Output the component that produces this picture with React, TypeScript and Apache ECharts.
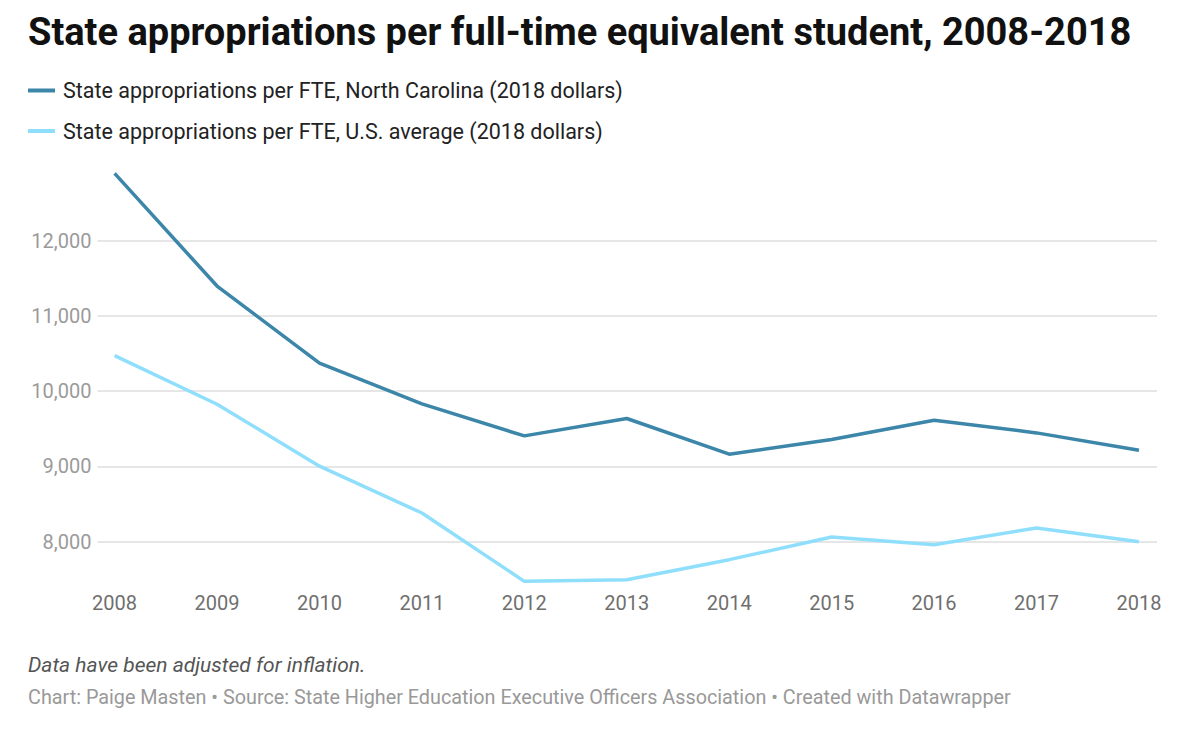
import React, { useEffect, useRef } from "react";
import * as echarts from "echarts";

const years = [2008, 2009, 2010, 2011, 2012, 2013, 2014, 2015, 2016, 2017, 2018];
const ncValues = [12895, 11398, 10372, 9831, 9406, 9637, 9163, 9358, 9615, 9446, 9216];
const usValues = [10473, 9827, 9004, 8381, 7473, 7495, 7761, 8062, 7960, 8182, 8000];
const seriesNames = [
  "State appropriations per FTE, North Carolina (2018 dollars)",
  "State appropriations per FTE, U.S. average (2018 dollars)",
];
const yTickLabels = [8000, 9000, 10000, 11000, 12000];

const title = "State appropriations per full-time equivalent student, 2008-2018";
const note = "Data have been adjusted for inflation.";
const credit =
  "Chart: Paige Masten • Source: State Higher Education Executive Officers Association • Created with Datawrapper";

const FONT = "Roboto, 'Noto Sans', sans-serif";

export default function App() {
  const ref = useRef<HTMLDivElement>(null);
  useEffect(() => {
    document.body.style.margin = "0";
    const chart = echarts.init(ref.current!, undefined, { renderer: "svg" });
    chart.setOption({
      animation: false,
      backgroundColor: "#ffffff",
      textStyle: { fontFamily: FONT },
      title: {
        text: title,
        left: 23,
        top: 8,
        textStyle: { fontFamily: FONT, fontSize: 38, fontWeight: "bold", color: "#111" },
      },
      legend: {
        orient: "vertical",
        left: 23,
        top: 73.5,
        itemGap: 16.5,
        itemWidth: 27,
        itemHeight: 4,
        icon: "rect",
        textStyle: {
          fontFamily: FONT,
          fontSize: 21.5,
          lineHeight: 24,
          color: "#222",
          padding: [0, 0, 0, 3],
        },
        data: seriesNames,
      },
      graphic: [
        {
          type: "text",
          left: 28,
          top: 654,
          style: { text: note, fontFamily: FONT, fontSize: 21, fontStyle: "italic", fill: "#555" },
        },
        {
          type: "text",
          left: 28,
          top: 687,
          style: { text: credit, fontFamily: FONT, fontSize: 19.8, fill: "#999" },
        },
      ],
      grid: { left: 97.5, right: 27, top: 165.5, bottom: 152.7, containLabel: false },
      xAxis: {
        type: "value",
        min: 2007.833,
        max: 2018.176,
        axisLine: { show: false },
        axisTick: { show: false },
        splitLine: { show: false },
        axisLabel: {
          customValues: years,
          formatter: (v: number) => String(v),
          color: "#6f6f6f",
          fontSize: 20,
          fontFamily: FONT,
          margin: 14,
        },
      },
      yAxis: {
        type: "value",
        min: 7500,
        max: 13000,
        interval: 500,
        axisLine: { show: false },
        axisTick: { show: false },
        splitLine: {
          show: true,
          showMaxLine: false,
          lineStyle: { color: ["transparent", "#e6e6e6"], width: 2 },
        },
        axisLabel: {
          color: "#9a9a9a",
          fontSize: 20,
          fontFamily: FONT,
          margin: 6,
          formatter: (v: number) =>
            yTickLabels.indexOf(v) >= 0 ? v.toLocaleString("en-US") : "",
        },
      },
      series: [
        {
          name: seriesNames[0],
          type: "line",
          data: years.map((y, i) => [y, ncValues[i]]),
          showSymbol: false,
          clip: false,
          lineStyle: { color: "#3b86a9", width: 3.5 },
          itemStyle: { color: "#3b86a9" },
        },
        {
          name: seriesNames[1],
          type: "line",
          data: years.map((y, i) => [y, usValues[i]]),
          showSymbol: false,
          clip: false,
          lineStyle: { color: "#8fdffc", width: 3.5 },
          itemStyle: { color: "#8fdffc" },
        },
      ],
    });
    return () => chart.dispose();
  }, []);
  return <div ref={ref} style={{ width: 1184, height: 732 }} />;
}
